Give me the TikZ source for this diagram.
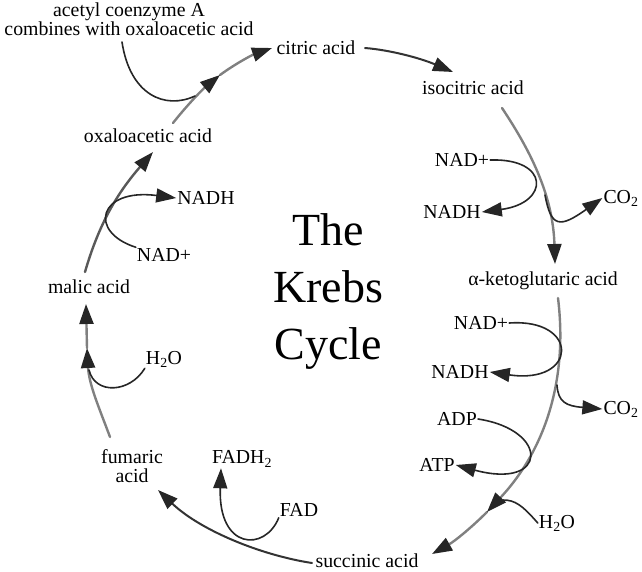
\documentclass[tikz,border=0pt]{standalone}
\usepackage{fontspec}
\setmainfont{Liberation Serif}
\usetikzlibrary{arrows.meta}
\begin{document}
\begin{tikzpicture}[x=1pt,y=-1pt,
  lbl/.style={font=\fontsize{19.8}{18.5}\selectfont, inner sep=1pt},
  big/.style={font=\fontsize{46}{57}\selectfont, align=center},
  cyc/.style={line width=2.4pt, color=black!50},
  cycdark/.style={line width=2pt, color=black!80},
  rxn/.style={line width=1.6pt, color=black!85},
  tip/.style={-{Triangle[length=20pt,width=14pt,color=black!85]}},
  line cap=round]
\useasboundingbox (0,0) rectangle (642,571);

% labels
\node[lbl, align=center] (acetyl) at (129,19) {acetyl coenzyme A\\combines with oxaloacetic acid};
\node[lbl] (citric) at (316,48) {citric acid};
\node[lbl] (isocitric) at (473,88) {isocitric acid};
\node[lbl] (nad1) at (462,160) {NAD+};
\node[lbl] (nadh1) at (452,212) {NADH};
\node[lbl] (co2a) at (621,198) {CO\textsubscript{2}};
\node[lbl] (akg) at (543,281) {α-ketoglutaric acid};
\node[lbl] (nad2) at (481,323) {NAD+};
\node[lbl] (nadh2) at (460,372) {NADH};
\node[lbl] (co2b) at (621,409) {CO\textsubscript{2}};
\node[lbl] (adp) at (457,419) {ADP};
\node[lbl] (atp) at (437,465) {ATP};
\node[lbl] (h2oa) at (557,523) {H\textsubscript{2}O};
\node[lbl] (succinic) at (367,561) {succinic acid};
\node[lbl] (fad) at (299,510) {FAD};
\node[lbl] (fadh) at (242,459) {FADH\textsubscript{2}};
\node[lbl, align=center] (fumaric) at (132,466) {fumaric\\acid};
\node[lbl] (h2ob) at (164,359) {H\textsubscript{2}O};
\node[lbl] (malic) at (89,287) {malic acid};
\node[lbl] (nad3) at (164,255) {NAD+};
\node[lbl] (nadh3) at (206,198) {NADH};
\node[lbl] (oxalo) at (148,136) {oxaloacetic acid};
\node[big] (title) at (328,291) {The\\Krebs\\Cycle};

% named points on the cycle
\coordinate (oxTop) at (173,123);
\coordinate (m1) at (220,75);
\coordinate (citIn) at (272,48);
\coordinate (citOut) at (365,48);
\coordinate (isoIn) at (453,72);
\coordinate (isoOut) at (502,108);
\coordinate (akgIn) at (555,264);
\coordinate (akgOut) at (558,298);
\coordinate (m2) at (487,512);
\coordinate (sucIn) at (432,554);
\coordinate (sucOut) at (312,563);
\coordinate (fumIn) at (158,490);
\coordinate (fumOut) at (110,437);
\coordinate (m3) at (87,348);
\coordinate (malIn) at (86,304);
\coordinate (malOut) at (85,272);
\coordinate (oxIn) at (153,152);
\coordinate (acStart) at (122,42);
\coordinate (acJoin) at (195,96);
\coordinate (co2aStart) at (545,195);
\coordinate (co2bStart) at (557,385);
\coordinate (h2oaJoin) at (503,500);
\coordinate (h2obJoin) at (89,370);

% main cycle
\draw[cyc, tip] (m1) .. controls (235,64) and (252,55) .. (citIn);
\draw[cyc, tip] (oxTop) .. controls (188,104) and (203,89) .. (m1);
\draw[cycdark, tip] (citOut) .. controls (390,50) and (420,58) .. (isoIn);
\draw[cyc, tip] (isoOut) .. controls (530,150) and (553,195) .. (akgIn);
\draw[cyc, tip] (m2) .. controls (472,527) and (455,541) .. (sucIn);
\draw[cyc, tip] (akgOut) .. controls (568,380) and (545,450) .. (m2);
\draw[cycdark, tip] (sucOut) .. controls (260,555) and (200,530) .. (fumIn);
\draw[cyc, tip] (m3) -- (malIn);
\draw[cyc, tip] (fumOut) .. controls (100,410) and (89,385) .. (m3);
\draw[cyc, color=black!65, tip] (malOut) .. controls (100,220) and (120,190) .. (oxIn);

% side reactions
\draw[rxn] (acStart) .. controls (130,95) and (165,110) .. (acJoin);
\draw[rxn, tip] (nad1.east) .. controls (550,158) and (550,203) .. (nadh1.east);
\draw[rxn, tip] (co2aStart) .. controls (551,228) and (560,228) .. (co2a.west);
\draw[rxn, tip] (nad2.east) .. controls (580,318) and (578,385) .. (nadh2.east);
\draw[rxn, tip] (co2bStart) .. controls (558,402) and (566,406) .. (co2b.west);
\draw[rxn, tip] (adp.east) .. controls (550,430) and (548,490) .. (atp.east);
\draw[rxn] (h2oaJoin) .. controls (515,500) and (522,505) .. (h2oa.west);
\draw[rxn, tip] (fad.south west) .. controls (265,552) and (218,550) .. (fadh.south -| 221,0);
\draw[rxn] (h2ob.south west) .. controls (130,393) and (95,395) .. (h2obJoin);
\draw[rxn, tip] (nad3.north west) .. controls (88,232) and (98,188) .. (nadh3.west);
\end{tikzpicture}
\end{document}
